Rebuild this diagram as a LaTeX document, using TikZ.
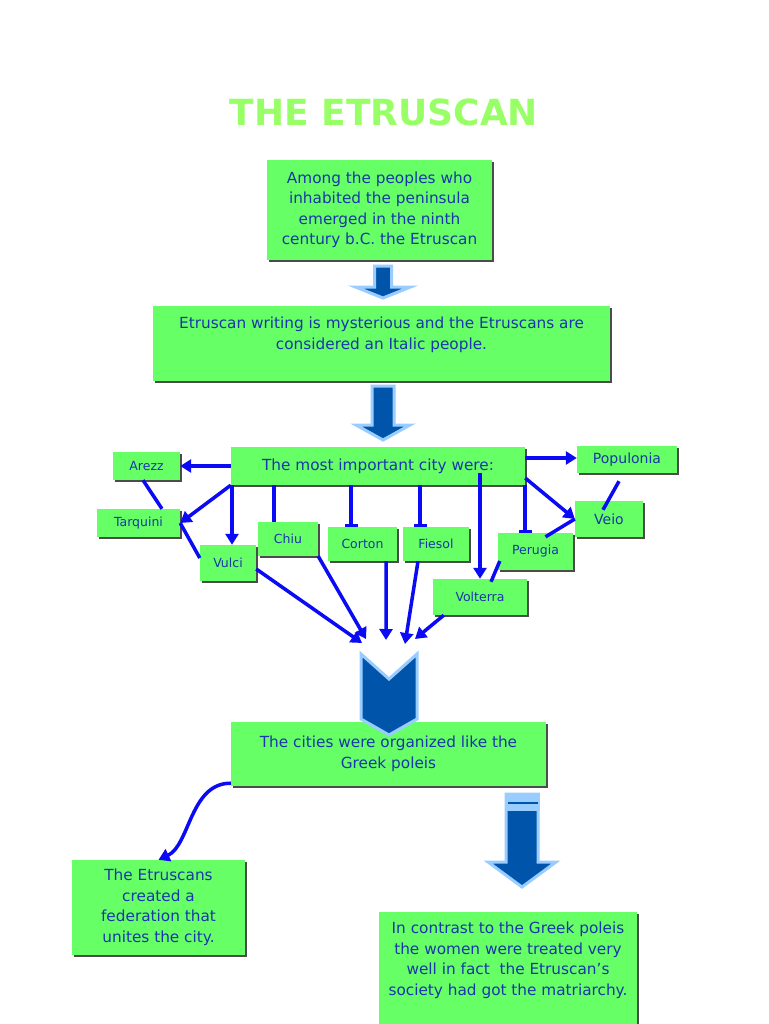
\documentclass[tikz,border=0pt]{standalone}
\usepackage{fontspec}
\setmainfont{DejaVu Sans}
\usetikzlibrary{arrows.meta, shadows}
\definecolor{boxgreen}{RGB}{102,255,102}
\definecolor{titlegreen}{RGB}{153,255,102}
\definecolor{textblue}{RGB}{25,55,170}
\definecolor{linkblue}{RGB}{10,10,245}
\definecolor{arrowdark}{RGB}{0,85,170}
\definecolor{arrowlight}{RGB}{153,204,255}
\newcommand{\blockarrow}[6]{% x, top, half shaft, half head, head y, tip y
\filldraw[bigarrow] (#1-#3,#2) -- (#1+#3,#2) -- (#1+#3,#5) -- (#1+#4,#5) -- (#1,#6) -- (#1-#4,#5) -- (#1-#3,#5) -- cycle;}
\tikzset{
  box/.style={fill=boxgreen, text=textblue, align=center, inner sep=0pt,
    drop shadow={shadow xshift=2pt, shadow yshift=-2pt, fill=black!70, opacity=1},
    font=\fontsize{15.3}{20.5}\selectfont},
  city/.style={box, font=\fontsize{12.5}{15}\selectfont},
  bigcity/.style={box, font=\fontsize{14}{17}\selectfont},
  link/.style={linkblue, line width=3.5pt, -{Triangle[length=11pt,width=13pt]}},
  joinline/.style={linkblue, line width=3.5pt},
  barlink/.style={linkblue, line width=3.5pt, -{Bar[width=13pt,line width=2.5pt]}},
  bigarrow/.style={fill=arrowdark, draw=arrowlight, line width=3pt, line join=miter},
}
\begin{document}
\begin{tikzpicture}[x=1pt,y=-1pt]

\path[fill=white, use as bounding box] (0,0) rectangle (768,1024);

\node[text=titlegreen, font=\fontsize{36}{40}\selectfont\bfseries] (title) at (384,112) {THE ETRUSCAN};

\node[box, minimum width=225pt, minimum height=100pt] (intro) at (379.5,210)
  {Among the peoples who\\inhabited the peninsula\\emerged in the ninth\\century b.C. the Etruscan};
\blockarrow{383}{266}{8.5}{27.5}{287}{298}

\node[box, minimum width=457pt, minimum height=75pt] (writing) at (381.5,343.5)
  {Etruscan writing is mysterious and the Etruscans are\\considered an Italic people.\\~};
\blockarrow{383}{386}{11}{27}{425}{440}

% cities
\node[box, minimum width=294pt, minimum height=38pt] (cities) at (378,466) {The most important city were:};
\node[city, minimum width=67pt, minimum height=28pt] (arezz) at (146.5,466) {Arezz};
\node[bigcity, minimum width=100pt, minimum height=27pt] (populonia) at (627,459.5) {Populonia};
\node[city, minimum width=83pt, minimum height=28pt] (tarquini) at (138.5,523) {Tarquini};
\node[bigcity, minimum width=68pt, minimum height=36pt] (veio) at (609,519) {Veio};
\node[city, minimum width=56pt, minimum height=36pt] (vulci) at (228,563) {Vulci};
\node[city, minimum width=60pt, minimum height=34pt] (chiu) at (288,539) {Chiu};
\node[city, minimum width=69pt, minimum height=34pt] (corton) at (362.5,544) {Corton};
\node[city, minimum width=66pt, minimum height=34pt] (fiesol) at (436,544) {Fiesol};
\node[city, minimum width=75pt, minimum height=37pt] (perugia) at (535.5,551.5) {Perugia};
\node[city, minimum width=94pt, minimum height=36pt] (volterra) at (480,597) {Volterra};

\draw[link] (cities.west) -- (arezz.east);
\draw[link] ([yshift=8pt]cities.east) -- ([yshift=1.5pt]populonia.west);
\draw[link] (cities.south west) -- (tarquini.east);
\draw[link] ([xshift=4pt]vulci.north |- cities.south) -- ([xshift=4pt]vulci.north);
\draw[joinline] ([xshift=-14pt]chiu.north |- cities.south) -- ([xshift=-14pt]chiu.north);
\draw[barlink] ([xshift=-11.5pt]corton.north |- cities.south) -- ([xshift=-11.5pt]corton.north);
\draw[barlink] ([xshift=-16pt]fiesol.north |- cities.south) -- ([xshift=-16pt]fiesol.north);
\draw[link] ([yshift=-7pt]volterra.north |- cities.center) -- (volterra.north);
\draw[barlink] (cities.south east) -- (cities.south east |- perugia.north);
\draw[link] ([yshift=-12pt]cities.east) -- (veio.west);
\draw[joinline] ([xshift=-8pt,yshift=-8pt]populonia.south) -- ([xshift=-6pt,yshift=-9pt]veio.north);
\draw[joinline] (veio.west) -- ([xshift=10pt,yshift=-4pt]perugia.north);
\draw[joinline] ([xshift=2pt,yshift=-9.5pt]perugia.west) -- ([xshift=11pt,yshift=-3pt]volterra.north);
\draw[joinline] ([xshift=-3.5pt]arezz.south) -- ([xshift=23.5pt]tarquini.north);
\draw[joinline] (tarquini.east) -- ([yshift=5pt]vulci.west);

% into the chevron
\coordinate (inA) at (362,643);
\coordinate (inB) at (366,639);
\coordinate (inC) at (386,640);
\coordinate (inD) at (405,644);
\coordinate (inE) at (415,639);
\draw[link] ([yshift=-6pt]vulci.east) -- (inA);
\draw[link] (chiu.south east) -- (inB);
\draw[link] ([xshift=-11pt]corton.south east) -- (inC);
\draw[link] ([xshift=-18pt]fiesol.south) -- (inD);
\draw[link] ([xshift=11pt]volterra.south west) -- (inE);

\node[box, minimum width=315pt, minimum height=64pt] (poleis) at (388.5,754)
  {The cities were organized like the\\Greek poleis};
\filldraw[bigarrow] (361,654) -- (389,679) -- (417,654) -- (417,719) -- (389,735) -- (361,719) -- cycle;

\node[box, minimum width=173pt, minimum height=95pt] (federation) at (158.5,907.5)
  {The Etruscans\\created a\\federation that\\unites the city.};
\draw[link] ([yshift=3pt]poleis.south west) .. controls (190,783) and (190,845) .. (federation.north);

\blockarrow{522}{794}{16}{34}{862}{887}
\fill[arrowlight] (506,793) rectangle (540,811);
\draw[arrowdark, line width=2pt] (508,803) -- (538,803);

\node[box, anchor=north, minimum width=258pt, inner ysep=10pt] (contrast) at (508,912)
  {In contrast to the Greek poleis\\the women were treated very\\well in fact\ \ the Etruscan's\\society had got the matriarchy.\\~\\~};

\end{tikzpicture}
\end{document}
